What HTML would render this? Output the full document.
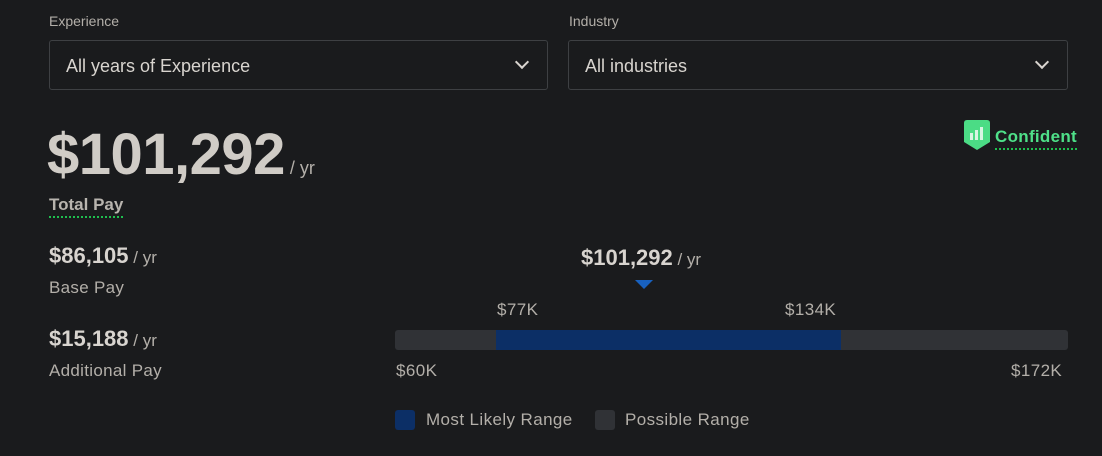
<!DOCTYPE html>
<html><head><meta charset="utf-8"><style>
*{margin:0;padding:0;box-sizing:border-box}
body{width:1102px;height:456px;background:#1a1b1d;font-family:"Liberation Sans",sans-serif;color:#cfcbc6;position:relative;overflow:hidden}
.a{position:absolute;white-space:nowrap}
.lbl{font-size:14px;color:#b3afa9}
.sel{border:1px solid #3e4043;border-radius:3px;height:50px;font-size:18px;color:#d8d4cf;padding:15px 0 0 16px}
.chev{position:absolute;right:20px;top:16px;width:10px;height:10px;border-right:2px solid #d8d4cf;border-bottom:2px solid #d8d4cf;transform:rotate(45deg)}
.b{font-weight:bold;color:#d8d4cf}
.yr{font-size:17px;color:#b3afa9;font-weight:normal}
.sub{font-size:17px;color:#b3afa9;letter-spacing:0.3px}
.tick{font-size:17px;color:#b3afa9;letter-spacing:0.4px}
</style></head><body>
<div class="a lbl" style="left:49px;top:13px">Experience</div>
<div class="a sel" style="left:49px;top:40px;width:499px">All years of Experience<div class="chev"></div></div>
<div class="a lbl" style="left:569px;top:13px">Industry</div>
<div class="a sel" style="left:568px;top:40px;width:500px">All industries<div class="chev"></div></div>

<div class="a b" style="left:47px;top:121px;font-size:58px;color:#d0ccc6;letter-spacing:-0.5px">$101,292<span class="yr" style="font-size:18px;letter-spacing:0"> / yr</span></div>
<div class="a" style="left:49px;top:195px;font-size:17px;font-weight:bold;color:#b8b4ae;border-bottom:2px dotted #1fbf4f;padding-bottom:1px">Total Pay</div>

<svg class="a" style="left:964px;top:120px" width="26" height="31"><path d="M0 3 Q0 0 3 0 H23 Q26 0 26 3 V22 L13 30 L0 22Z" fill="#4bdc85"/><rect x="6" y="13" width="3" height="7" fill="#d8f5e3"/><rect x="11" y="10" width="3" height="10" fill="#d8f5e3"/><rect x="16" y="7" width="3" height="13" fill="#d8f5e3"/></svg>
<div class="a" style="left:995px;top:127px;font-size:17px;font-weight:bold;color:#4fe089;border-bottom:2px dotted #1fbf4f;padding-bottom:1px;letter-spacing:0.3px">Confident</div>

<div class="a b" style="left:49px;top:243px;font-size:22px">$86,105<span class="yr"> / yr</span></div>
<div class="a sub" style="left:49px;top:278px">Base Pay</div>
<div class="a b" style="left:49px;top:326px;font-size:22px">$15,188<span class="yr"> / yr</span></div>
<div class="a sub" style="left:49px;top:361px">Additional Pay</div>

<div class="a b" style="left:581px;top:245px;font-size:22px">$101,292<span class="yr"> / yr</span></div>
<div class="a" style="left:635px;top:280px;width:0;height:0;border-left:9px solid transparent;border-right:9px solid transparent;border-top:9px solid #1861bf"></div>
<div class="a tick" style="left:497px;top:300px">$77K</div>
<div class="a tick" style="left:785px;top:300px">$134K</div>
<div class="a" style="left:395px;top:330px;width:673px;height:20px;background:#303236;border-radius:3px"></div>
<div class="a" style="left:496px;top:330px;width:345px;height:20px;background:#0c2f66"></div>
<div class="a tick" style="left:396px;top:361px">$60K</div>
<div class="a tick" style="left:1011px;top:361px">$172K</div>

<div class="a" style="left:395px;top:410px;width:20px;height:20px;background:#0c2f66;border-radius:3px"></div>
<div class="a tick" style="left:426px;top:410px">Most Likely Range</div>
<div class="a" style="left:595px;top:410px;width:20px;height:20px;background:#303236;border-radius:3px"></div>
<div class="a tick" style="left:625px;top:410px">Possible Range</div>
</body></html>
